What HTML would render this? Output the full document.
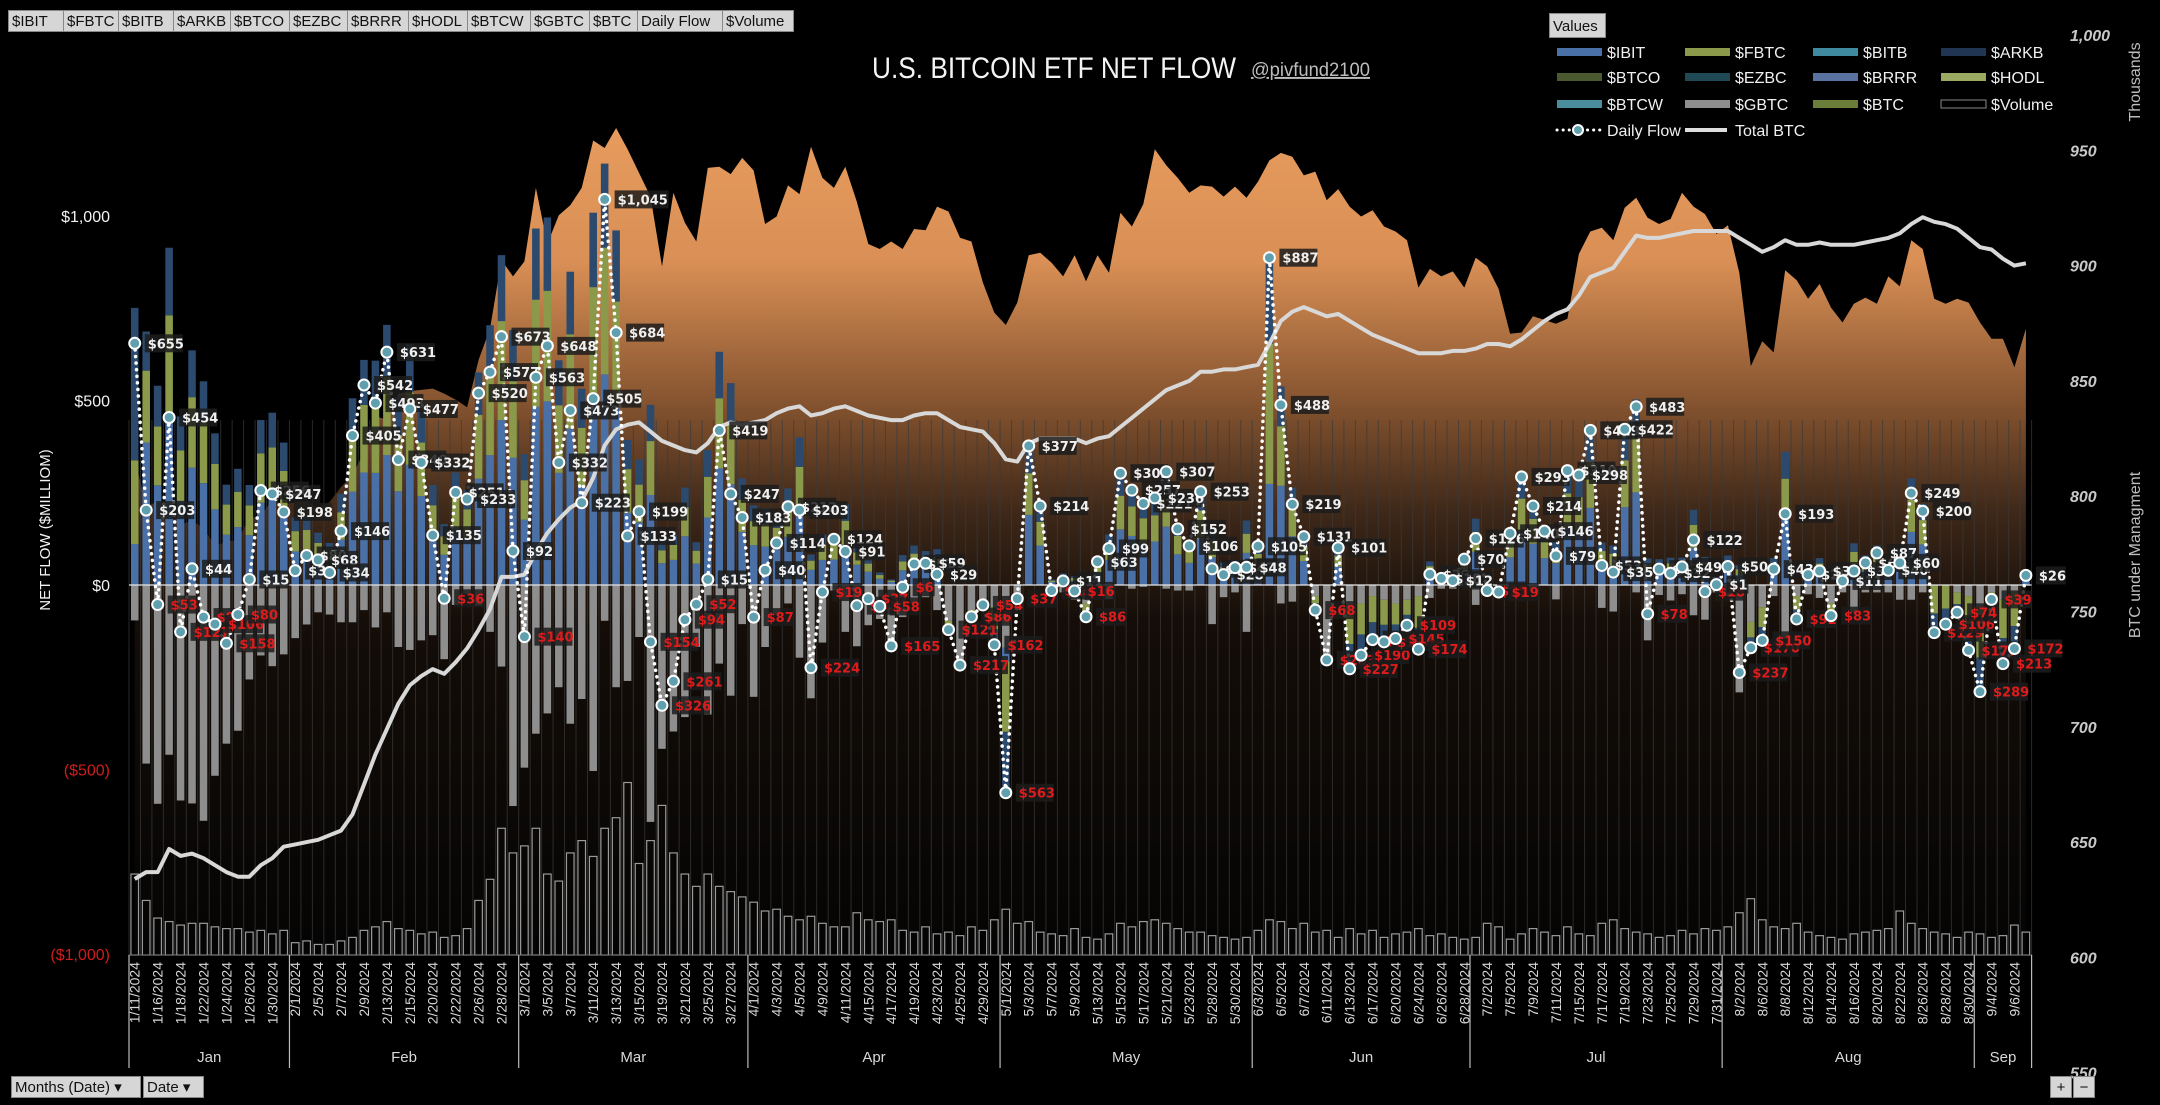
<!DOCTYPE html>
<html><head><meta charset="utf-8"><title>U.S. Bitcoin ETF Net Flow</title>
<style>
html,body{margin:0;padding:0;background:#000;}
body{width:2160px;height:1105px;overflow:hidden;position:relative;font-family:"Liberation Sans",sans-serif;}
.btn{position:absolute;top:10px;height:22px;background:#d6d6d6;border:1px solid #888;color:#111;font-size:15px;line-height:22px;text-align:left;padding-left:3px;box-sizing:border-box;z-index:2;}
#chart{z-index:0}
</style></head>
<body>
<div style="position:absolute;left:0;top:0;">
<div class="btn" style="left:8px;width:56px;">$IBIT</div>
<div class="btn" style="left:63px;width:56px;">$FBTC</div>
<div class="btn" style="left:118px;width:56px;">$BITB</div>
<div class="btn" style="left:173px;width:58px;">$ARKB</div>
<div class="btn" style="left:230px;width:60px;">$BTCO</div>
<div class="btn" style="left:289px;width:59px;">$EZBC</div>
<div class="btn" style="left:347px;width:62px;">$BRRR</div>
<div class="btn" style="left:408px;width:60px;">$HODL</div>
<div class="btn" style="left:467px;width:64px;">$BTCW</div>
<div class="btn" style="left:530px;width:60px;">$GBTC</div>
<div class="btn" style="left:589px;width:49px;">$BTC</div>
<div class="btn" style="left:637px;width:86px;">Daily Flow</div>
<div class="btn" style="left:722px;width:72px;">$Volume</div>
</div>
<div class="btn" style="left:1549px;top:13px;width:57px;height:25px;line-height:25px;">Values</div>
<div class="btn" style="left:11px;top:1076px;width:130px;">Months (Date) &#9662;</div>
<div class="btn" style="left:143px;top:1076px;width:61px;">Date &#9662;</div>
<div class="btn" style="left:2050px;top:1076px;width:22px;text-align:center;padding:0;">+</div>
<div class="btn" style="left:2073px;top:1076px;width:22px;text-align:center;padding:0;">&#8722;</div>

<svg id="chart" width="2160" height="1105" style="position:absolute;left:0;top:0;" xmlns="http://www.w3.org/2000/svg">
<defs>
<linearGradient id="areaGrad" gradientUnits="userSpaceOnUse" x1="0" y1="120" x2="0" y2="955">
<stop offset="0" stop-color="#e89c5e"/>
<stop offset="0.17" stop-color="#d98f55"/>
<stop offset="0.34" stop-color="#84532f"/>
<stop offset="0.47" stop-color="#3e2819"/>
<stop offset="0.6" stop-color="#140d08"/>
<stop offset="1" stop-color="#040404"/>
</linearGradient>
</defs>
<g id="gArea"></g><g id="gGrid"></g><g id="gVol"></g><g id="gBars"></g><g id="gBtc"></g><g id="gFlow"></g><g id="gAxes"></g>
</svg>

<script>
const dates=["1/11","1/12","1/16","1/17","1/18","1/19","1/22","1/23","1/24","1/25","1/26","1/29","1/30","1/31",
"2/1","2/2","2/5","2/6","2/7","2/8","2/9","2/12","2/13","2/14","2/15","2/16","2/20","2/21","2/22","2/23","2/26","2/27","2/28","2/29",
"3/1","3/4","3/5","3/6","3/7","3/8","3/11","3/12","3/13","3/14","3/15","3/18","3/19","3/20","3/21","3/22","3/25","3/26","3/27","3/28",
"4/1","4/2","4/3","4/4","4/5","4/8","4/9","4/10","4/11","4/12","4/15","4/16","4/17","4/18","4/19","4/22","4/23","4/24","4/25","4/26","4/29","4/30",
"5/1","5/2","5/3","5/6","5/7","5/8","5/9","5/10","5/13","5/14","5/15","5/16","5/17","5/20","5/21","5/22","5/23","5/24","5/28","5/29","5/30","5/31",
"6/3","6/4","6/5","6/6","6/7","6/10","6/11","6/12","6/13","6/14","6/17","6/18","6/20","6/21","6/24","6/25","6/26","6/27","6/28",
"7/1","7/2","7/3","7/5","7/8","7/9","7/10","7/11","7/12","7/15","7/16","7/17","7/18","7/19","7/22","7/23","7/24","7/25","7/26","7/29","7/30","7/31",
"8/1","8/2","8/5","8/6","8/7","8/8","8/9","8/12","8/13","8/14","8/15","8/16","8/19","8/20","8/21","8/22","8/23","8/26","8/27","8/28","8/29","8/30",
"9/3","9/4","9/5","9/6","9/9"];
const monthNames=["Jan","Feb","Mar","Apr","May","Jun","Jul","Aug","Sep"];
const netFlow=[655,203,-53,454,-127,44,-87,-106,-158,-80,15,256,247,198,39,80,68,34,146,405,542,493,631,340,477,332,135,-36,251,233,520,577,673,92,-140,563,648,332,473,223,505,1045,684,
133,199,-154,-326,-261,-94,-52,15,419,247,183,-87,40,114,212,203,-224,-19,124,91,-56,-37,-58,-165,-6,57,59,29,-121,-217,-86,-54,-162,-563,-37,377,214,-15,11,-16,-86,63,
99,303,257,221,236,307,152,106,253,44,28,47,48,105,887,488,219,131,-68,-203,101,-227,-190,-148,-154,-145,-109,-174,29,18,12,70,126,-15,-19,140,293,214,146,79,310,298,
419,53,35,422,483,-78,43,32,49,122,-18,1,50,-237,-170,-150,43,193,-92,28,38,-83,11,38,60,87,40,60,249,200,-129,-106,-74,-177,-289,-39,-213,-172,26];
const gbtc=[-96,-484,-593,-460,-584,-592,-639,-517,-430,-395,-256,-191,-220,-188,-144,-107,-74,-80,-101,-101,-68,-115,-74,-168,-176,-150,-136,-201,-54,-24,-56,-127,-221,-599,-495,-403,-348,-277,-376,-309,-504,-97,-277,
-260,-141,-642,-444,-397,-358,-168,-351,-213,-300,-106,-303,-168,-80,-50,-197,-307,-156,-15,-127,-166,-109,-92,-180,-87,-50,-33,-68,-97,-209,-68,-50,-60,-170,-39,0,0,-30,-20,-40,-50,-5,
-38,0,-10,-5,0,-10,-15,-15,0,-106,-33,-20,-127,0,0,-50,-45,0,-30,-190,0,-60,-50,-30,-40,-50,-40,-30,-35,-10,-10,0,-54,-20,-20,-10,0,-10,0,-39,0,0,
0,-62,-72,0,-20,-150,-27,-42,-25,-82,-94,-20,-30,-291,-100,-60,-30,-168,-30,-25,-35,-50,-20,-75,-20,-20,-20,-40,-40,-20,0,0,-20,-30,-60,-20,-40,-20,0];
const ibit=[111,386,270,457,228,318,276,205,136,157,135,223,233,193,91,93,71,57,123,253,305,304,352,254,326,241,135,82,152,128,288,352,447,345,177,483,498,304,424,266,504,571,480,
196,170,244,59,68,132,58,183,316,273,144,108,104,97,131,200,41,68,69,109,55,36,17,8,40,53,46,48,0,0,0,0,0,-37,2,190,107,8,16,12,0,34,
68,151,133,113,118,158,83,60,126,75,30,33,87,52,274,269,132,65,0,0,50,0,0,0,0,0,0,0,32,14,11,35,90,3,1,75,146,112,73,59,155,149,
209,57,53,211,251,36,35,37,37,102,38,10,40,27,0,0,36,180,0,26,36,0,15,56,40,53,30,50,144,110,0,0,0,0,0,0,0,0,13];
const fbtc=[227,195,160,274,137,191,166,123,82,95,81,134,140,116,55,56,43,34,74,152,183,182,212,152,196,145,81,50,92,77,173,211,268,207,107,290,299,183,255,160,303,343,288,
118,102,146,35,41,79,35,110,190,164,87,65,62,58,79,120,25,41,42,65,33,22,10,4,24,32,28,29,-14,-5,-10,-2,-60,-191,0,113,64,4,9,7,-20,20,
41,91,80,68,71,95,50,36,76,45,18,20,52,32,380,161,79,39,-20,-7,30,-100,-84,-71,-68,-57,-41,-86,19,8,7,21,54,1,0,45,88,67,44,35,93,89,
126,35,32,127,151,22,21,22,22,61,23,6,24,16,-42,-54,22,108,-37,16,22,-20,9,34,24,32,18,30,87,66,-77,-64,-32,-88,-137,-11,-104,-91,8];
const others=[413,106,110,183,92,127,110,83,54,63,55,90,94,77,37,38,28,23,50,101,122,122,141,102,131,96,55,33,61,52,115,141,179,139,71,193,199,122,170,106,202,228,193,
79,68,98,24,27,53,23,73,126,110,58,43,42,39,52,80,17,28,28,44,22,14,7,3,17,22,18,20,-10,-3,-8,-2,-42,-165,0,74,43,3,6,5,-16,14,
28,61,54,45,47,64,34,25,51,30,13,14,36,21,233,108,53,27,-18,-6,21,-67,-56,-47,-46,-38,-28,-58,13,6,4,14,36,1,0,30,59,45,29,24,62,60,
84,23,22,84,101,14,14,15,15,41,15,5,16,11,-28,-36,15,73,-25,11,15,-13,7,23,16,22,12,20,58,44,-52,-42,-22,-59,-92,-8,-69,-61,5];
const volumeB=[4.6,3.1,2.1,1.9,1.7,1.8,1.8,1.6,1.5,1.5,1.3,1.4,1.2,1.4,
0.7,0.8,0.6,0.6,0.8,1.0,1.4,1.6,1.9,1.5,1.4,1.2,1.3,1.0,1.1,1.5,3.1,4.3,7.2,5.8,
6.2,7.2,4.6,4.2,5.8,6.5,5.6,7.2,7.8,9.8,5.2,6.5,8.5,5.8,4.6,3.9,4.6,3.9,3.6,3.3,
3.0,2.5,2.6,2.2,2.0,2.2,1.8,1.6,1.6,2.4,2.0,1.9,2.0,1.4,1.3,1.6,1.2,1.3,1.1,1.6,1.4,2.0,
2.6,1.8,1.9,1.3,1.2,1.1,1.5,1.0,0.9,1.2,1.8,1.6,1.9,2.0,1.8,1.5,1.3,1.3,1.1,1.0,0.9,1.0,
1.4,2.0,1.9,1.5,1.8,1.3,1.4,1.0,1.5,1.2,1.4,1.0,1.2,1.3,1.5,1.1,1.2,1.0,0.9,
1.0,1.8,1.6,0.9,1.2,1.5,1.3,1.1,1.6,1.2,1.1,1.8,2.0,1.5,1.3,1.2,1.0,1.1,1.4,1.2,1.5,1.4,
1.6,2.4,3.2,2.0,1.6,1.5,1.8,1.3,1.1,1.0,0.9,1.2,1.3,1.4,1.5,2.5,1.8,1.5,1.3,1.2,1.0,1.3,
1.2,1.0,1.1,1.7,1.3];
const totalBtcK=[634,637,637,647,644,645,643,640,637,635,635,640,643,648,
649,650,651,653,655,662,675,688,699,710,718,722,725,723,728,734,742,751,765,765,
766,776,784,790,795,798,808,822,829,831,832,828,824,822,820,819,823,830,832,831,
832,833,836,838,839,835,836,838,839,837,835,834,833,833,835,836,836,833,830,829,828,823,
816,815,823,825,825,825,825,823,825,826,830,834,838,842,846,848,850,854,854,855,855,856,
857,866,876,880,882,880,878,879,876,873,870,868,866,864,862,862,862,863,863,
864,866,866,865,868,872,876,879,881,887,895,897,899,906,913,912,912,913,914,915,915,915,
915,912,909,906,908,911,909,909,910,909,909,909,910,911,912,914,918,921,919,918,916,912,
908,907,903,900,901];
const btcPriceK=[46.6,42.8,43.1,42.7,41.3,41.6,41.0,39.6,39.9,40.1,41.8,42.0,43.3,42.9,
43.1,43.2,42.6,43.1,44.3,45.3,47.1,50.0,49.7,51.8,52.0,52.1,52.2,51.8,51.3,50.7,54.5,57.0,62.5,61.2,
62.4,68.3,63.8,66.1,66.9,68.3,72.1,71.5,73.1,71.4,69.5,67.6,62.0,67.9,65.5,64.0,69.9,70.0,69.4,70.7,
69.7,65.4,66.0,68.5,67.8,71.6,69.1,68.3,70.0,67.2,63.8,63.4,64.0,63.4,65.0,64.9,66.8,66.4,64.3,64.0,60.7,58.3,
57.3,59.1,62.9,63.1,62.3,61.2,62.9,60.8,62.9,61.5,66.3,65.2,67.0,71.4,70.1,69.1,67.9,68.5,68.4,67.6,68.4,67.5,
68.8,70.5,71.1,70.8,69.3,69.6,67.3,68.2,66.8,66.0,66.5,65.2,64.8,64.1,60.3,61.8,61.2,61.6,60.3,
62.7,62.0,60.2,56.6,56.7,58.0,57.7,57.4,57.8,63.0,64.8,65.1,64.1,66.7,67.5,65.9,65.4,65.8,67.9,66.8,66.2,64.6,
65.3,61.5,54.0,56.0,55.1,61.7,60.9,59.4,60.6,58.7,57.5,59.0,59.5,59.0,61.2,60.4,64.1,63.4,59.4,59.0,59.4,59.1,
57.5,56.2,56.2,53.9,57.0];
const leftTicks=[1000,500,0,-500,-1000];
const leftTickLabels=["$1,000","$500","$0","($500)","($1,000)"];
const rightTicks=[1000,950,900,850,800,750,700,650,600,550];
const rightTickLabels=["1,000","950","900","850","800","750","700","650","600","550"];

const NS="http://www.w3.org/2000/svg";
const PL=129, PR=2031.6, N=dates.length, STEP=(PR-PL)/N, BW=STEP*0.66;
function xC(i){return PL+STEP*(i+0.5);}
function yL(v){return 585-v*0.369;}
function yR(v){return 35+(1000-v)*2.306;}
function yP(p){return 128+(73.1-p)*12.47;}
function yVol(b){return 955-b*17.6;}
function mk(tag,attrs,parent,text){const e=document.createElementNS(NS,tag);for(const k in attrs)e.setAttribute(k,attrs[k]);if(text!==undefined)e.textContent=text;parent.appendChild(e);return e;}
const gArea=document.getElementById('gArea'),gGrid=document.getElementById('gGrid'),gVol=document.getElementById('gVol'),gBars=document.getElementById('gBars'),gBtc=document.getElementById('gBtc'),gFlow=document.getElementById('gFlow'),gAxes=document.getElementById('gAxes');

let d="M"+xC(0)+" 955";
btcPriceK.forEach((p,i)=>{d+=" L"+xC(i).toFixed(1)+" "+yP(p).toFixed(1);});
d+=" L"+xC(N-1)+" 955 Z";
const area=mk('path',{d:d,fill:'url(#areaGrad)'},gArea);



for(let i=0;i<=N;i++){const ln=mk('line',{x1:PL+STEP*i,x2:PL+STEP*i,y1:420,y2:955,stroke:'#3a3a3a','stroke-width':1,'stroke-opacity':0.7},gGrid);

}

volumeB.forEach((b,i)=>{const r=mk('rect',{x:xC(i)-BW/2,y:yVol(b),width:BW,height:955-yVol(b),fill:'none',stroke:'#9a9a9a','stroke-width':1.2},gVol);

});

const series=[{a:ibit,c:'#4a70a8',n:'ibit'},{a:fbtc,c:'#8a9a4a',n:'fbtc'},{a:others,c:'#2b4a6e',n:'other-etf'}];
for(let i=0;i<N;i++){
  let pos=0,neg=0;
  const g=gbtc[i];
  if(g<0){const r=mk('rect',{x:xC(i)-BW/2,y:yL(0),width:BW,height:yL(g)-yL(0),fill:'#8e8e8e'},gBars);
    
    
    neg=g;}
  series.forEach(s=>{const v=s.a[i];if(v>0){const r=mk('rect',{x:xC(i)-BW/2,y:yL(pos+v),width:BW,height:yL(pos)-yL(pos+v),fill:s.c},gBars);
      
      
      pos+=v;}
    else if(v<0){const r=mk('rect',{x:xC(i)-BW/2,y:yL(neg),width:BW,height:yL(neg+v)-yL(neg),fill:s.c},gBars);
      
      
      neg+=v;}});
}
const zl=mk('line',{x1:PL,x2:PR,y1:yL(0),y2:yL(0),stroke:'#e8e8e8','stroke-width':1.2},gBars);



const bp=totalBtcK.map((v,i)=>xC(i).toFixed(1)+","+yR(v).toFixed(1)).join(" ");
const bl=mk('polyline',{points:bp,fill:'none',stroke:'#d8d8d8','stroke-width':4,'stroke-linejoin':'round'},gBtc);



const fp=netFlow.map((v,i)=>xC(i).toFixed(1)+","+yL(v).toFixed(1)).join(" ");
const fl=mk('polyline',{points:fp,fill:'none',stroke:'#ffffff','stroke-width':3.5,'stroke-dasharray':'0.1 6.5','stroke-linecap':'round'},gFlow);


netFlow.forEach((v,i)=>{
  const cx=xC(i),cy=yL(v);
  const txt="$"+Math.abs(v).toLocaleString('en-US');
  const w=txt.length*8+6;
  const bg=mk('rect',{x:cx+10,y:cy-9,width:w,height:18,fill:'#1c1c1c','fill-opacity':0.85},gFlow);
  
  
  const t=mk('text',{x:cx+13,y:cy+5,fill:v<0?'#e01b1b':'#f0f0f0','font-size':13,'font-weight':'bold','font-family':'"DejaVu Sans","Liberation Sans",sans-serif'},gFlow,txt);
  
  
});
netFlow.forEach((v,i)=>{
  const c=mk('circle',{cx:xC(i),cy:yL(v),r:5.5,fill:'#5f9fae',stroke:'#ffffff','stroke-width':2},gFlow);
  
  
});

leftTicks.forEach((v,k)=>{const t=mk('text',{x:110,y:yL(v)+6,'text-anchor':'end',fill:v<0?'#d01c1c':'#f2f2f2','font-size':16},gAxes,leftTickLabels[k]);
  
  });
const ly=mk('text',{x:0,y:0,transform:'translate(50,530) rotate(-90)','text-anchor':'middle',fill:'#f2f2f2','font-size':15},gAxes,'NET FLOW ($MILLIOM)');


rightTicks.forEach((v,k)=>{const t=mk('text',{x:2070,y:yR(v)+6,fill:'#c8c8c8','font-size':16,'font-style':'italic','font-weight':'bold'},gAxes,rightTickLabels[k]);
  
  });
const th=mk('text',{x:0,y:0,transform:'translate(2140,82) rotate(-90)','text-anchor':'middle',fill:'#bdbdbd','font-size':16},gAxes,'Thousands');


const ry=mk('text',{x:0,y:0,transform:'translate(2140,555) rotate(-90)','text-anchor':'middle',fill:'#bdbdbd','font-size':16},gAxes,'BTC under Managment');



const ax=mk('line',{x1:PL,x2:PR,y1:955,y2:955,stroke:'#777','stroke-width':1},gAxes);


dates.forEach((dd,i)=>{if(i%2!==0)return;
  const t=mk('text',{x:0,y:0,transform:'translate('+(xC(i)+5).toFixed(1)+',962) rotate(-90)','text-anchor':'end',fill:'#d8d8d8','font-size':14},gAxes,dd+'/2024');
  
  });
let start=0;
for(let i=1;i<=N;i++){
  const m=i<N?parseInt(dates[i]):-1, pm=parseInt(dates[i-1]);
  if(m!==pm){
    const x0=PL+STEP*start,x1=PL+STEP*i;
    const sep=mk('line',{x1:x0,x2:x0,y1:955,y2:1068,stroke:'#bbb','stroke-width':1.2},gAxes);
    
    
    const t=mk('text',{x:(x0+x1)/2,y:1062,'text-anchor':'middle',fill:'#d8d8d8','font-size':15},gAxes,monthNames[pm-1]);
    
    
    start=i;
  }
}
const endSep=mk('line',{x1:PR,x2:PR,y1:955,y2:1068,stroke:'#bbb','stroke-width':1.2},gAxes);



const ti=mk('text',{x:872,y:78,fill:'#f4f4f4','font-size':30,textLength:364,lengthAdjust:'spacingAndGlyphs'},gAxes,'U.S. BITCOIN ETF NET FLOW');


const hd=mk('text',{x:1251,y:76,fill:'#bdbdbd','font-size':19,'text-decoration':'underline',textLength:119,lengthAdjust:'spacingAndGlyphs'},gAxes,'@pivfund2100');



const legNames=["$IBIT","$FBTC","$BITB","$ARKB","$BTCO","$EZBC","$BRRR","$HODL","$BTCW","$GBTC","$BTC","$Volume"];
const legColors=["#4a70a8","#8a9a4a","#3f8a9e","#1f3552","#4a5a2e","#1f4a55","#5a72a0","#9aaa60","#4a8e9e","#8e8e8e","#6a7e3a","none"];
const colX=[1557,1685,1813,1941], rowY=[52,77,104];
legNames.forEach((nm,k)=>{const cx=colX[k%4],cy=rowY[Math.floor(k/4)];
  const sw=mk('rect',{x:cx,y:cy-4,width:45,height:8,fill:legColors[k],stroke:legColors[k]==='none'?'#888':'none','stroke-width':1},gAxes);
  
  
  const t=mk('text',{x:cx+50,y:cy+6,fill:'#f0f0f0','font-size':16},gAxes,nm);
  
  });
const ld=mk('line',{x1:1557,x2:1600,y1:130,y2:130,stroke:'#fff','stroke-width':3,'stroke-dasharray':'0.1 6','stroke-linecap':'round'},gAxes);


const lc=mk('circle',{cx:1578,cy:130,r:5,fill:'#5f9fae',stroke:'#fff','stroke-width':2},gAxes);


const lt=mk('text',{x:1607,y:136,fill:'#f0f0f0','font-size':16},gAxes,'Daily Flow');


const lb=mk('line',{x1:1685,x2:1727,y1:130,y2:130,stroke:'#ddd','stroke-width':4},gAxes);


const lbt=mk('text',{x:1735,y:136,fill:'#f0f0f0','font-size':16},gAxes,'Total BTC');


</script>
</body></html>
